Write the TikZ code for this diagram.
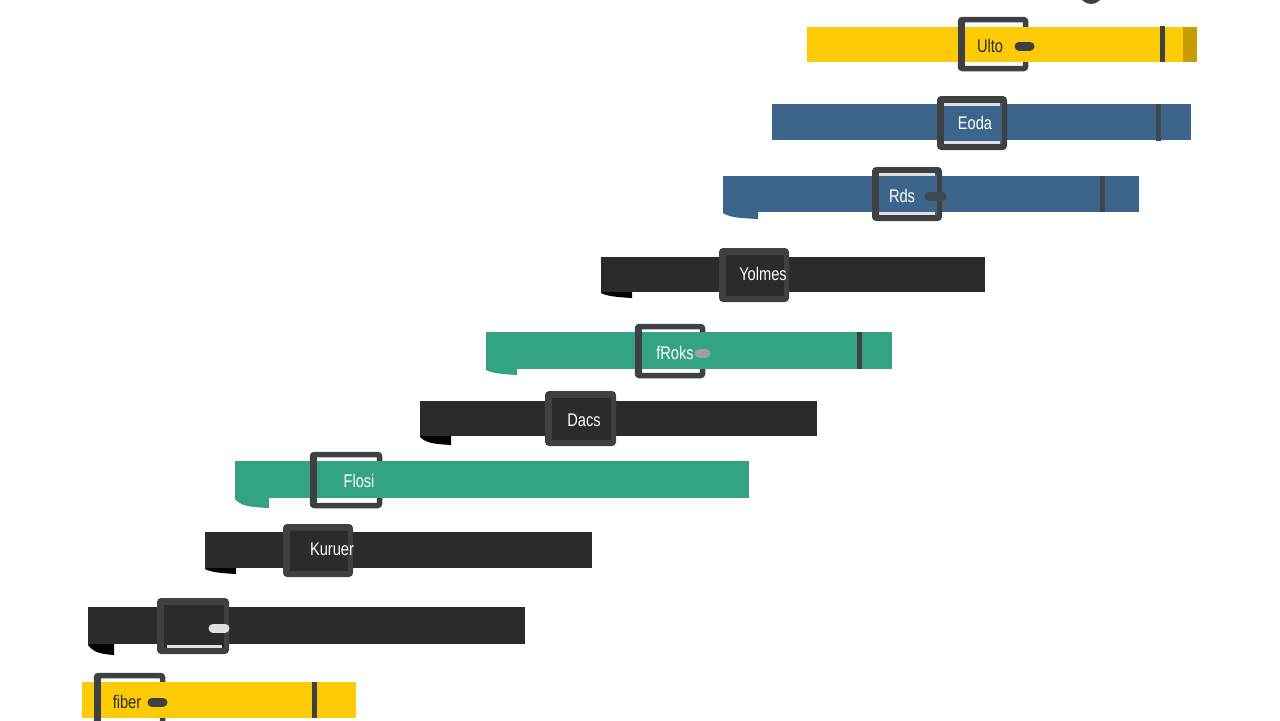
\documentclass[tikz,border=0pt]{standalone}
\usepackage{fontspec}
\setmainfont[FakeStretch=0.8]{Liberation Sans}
\definecolor{beltyellow}{HTML}{FDCB05}
\definecolor{beltblue}{HTML}{3D658B}
\definecolor{beltblack}{HTML}{2B2B2B}
\definecolor{beltgreen}{HTML}{33A384}
\definecolor{framegray}{HTML}{3F4042}
\tikzset{
	belttext/.style={font=\fontsize{5.2}{6}\selectfont, inner sep=0pt},
	framedraw/.style={draw=framegray, line width=0.55mm, rounded corners=0.2mm},
	barline/.style={draw=framegray, line width=0.5mm},
	slotline/.style={draw=white!88!black, line width=0.3mm},
	pill/.style={line width=0.9mm, line cap=round},
}
\def\belt[#1](#2,#3)(#4,#5){\fill[#1] (#2, #4) rectangle (#3, #5);}
\def\tail[#1](#2,#3)(#4,#5){\fill[#1] (#2, #4) -- (#2, #4+1) .. controls (#2+6, #5-2) and (#2+14, #5-1) .. (#3, #5) -- (#3, #4) -- cycle;}
% closed buckle: solid frame
\def\solidbuckle[#1](#2,#3)(#4,#5){
	\fill[framegray, rounded corners=0.4mm] (#2, #4) rectangle (#3, #5);
	\fill[#1] (#2+7, #4+7) rectangle (#3-5, #5-6);
}
% open buckle: the belt runs over its right side
\def\openbuckle[#1](#2,#3)(#4,#5)(#6,#7){
	\draw[framedraw] (#2+2.5, #4+2.5) rectangle (#3-2.5, #5-2.5);
	\fill[#1] (#2+6, #6) rectangle (#3+3, #7);
	\draw[framedraw, line width=0.7mm] (#2+3.5, #4+2.5) -- (#2+3.5, #5-2.5);
}

\begin{document}
\begin{tikzpicture}[x=0.01cm, y=-0.01cm]
	\useasboundingbox (0, 0) rectangle (1280, 720);
	
	\fill[framegray] (1091, -8) circle (12);
	
	%%%%% yellow top
	\openbuckle[beltyellow](958,1028)(17,71)(27,62);
	\fill[beltyellow] (807, 27) rectangle (958, 62);
	\fill[beltyellow] (1028, 27) rectangle (1197, 62);
	\fill[beltyellow!78!black] (1183, 27) rectangle (1197, 62);
	\draw[barline] (1162, 26) -- (1162, 62);
	\node[belttext, text=beltblack] (ulto) at (990, 46) {Ulto};
	\draw[pill, framegray] (1019, 46) -- (1030, 46);
	
	%%%%% blue
	\belt[beltblue](772,1191)(104,140);
	\solidbuckle[beltblue](937,1007)(96,150);
	\draw[slotline] (944, 104) -- (1000, 104);
	\draw[slotline] (944, 142) -- (1000, 142);
	\draw[barline, draw=framegray!80!beltblue] (1158, 104) -- (1158, 141);
	\node[belttext, text=white] (eoda) at (975, 123) {Eoda};
	
	\belt[beltblue](723,1139)(176,212);
	\tail[beltblue](723,758)(212,219);
	\solidbuckle[beltblue](872,942)(167,221);
	\draw[slotline] (879, 174) -- (935, 174);
	\draw[slotline] (879, 213) -- (935, 213);
	\draw[barline, draw=framegray!80!beltblue] (1102, 176) -- (1102, 212);
	\node[belttext, text=white] (rds) at (902, 196) {Rds};
	\draw[pill, framegray!80!beltblue] (929, 196) -- (942, 196);
	
	%%%%% black
	\belt[beltblack](601,985)(257,292);
	\tail[black](601,632)(292,298);
	\solidbuckle[beltblack](719,789)(248,302);
	\node[belttext, text=white] (yolmes) at (763, 274) {Yolmes};
	
	%%%%% green
	\openbuckle[beltgreen](635,705)(324,378)(332,369);
	\fill[beltgreen] (486, 332) rectangle (635, 369);
	\fill[beltgreen] (705, 332) rectangle (892, 369);
	\tail[beltgreen](486,517)(369,375);
	\draw[barline] (859, 332) -- (859, 369);
	\node[belttext, text=white] (froks) at (675, 353) {fRoks};
	\draw[pill, gray!75] (699, 353) -- (706, 353);
	
	%%%%% black
	\belt[beltblack](420,817)(401,436);
	\tail[black](420,451)(436,445);
	\solidbuckle[beltblack](545,616)(391,446);
	\node[belttext, text=white] (dacs) at (584, 420) {Dacs};
	
	%%%%% green
	\openbuckle[beltgreen](310,382)(452,508)(461,498);
	\fill[beltgreen] (235, 461) rectangle (310, 498);
	\fill[beltgreen] (382, 461) rectangle (749, 498);
	\tail[beltgreen](235,269)(498,508);
	\node[belttext, text=white] (flosi) at (359, 481) {Flosi};
	
	%%%%% black
	\belt[beltblack](205,592)(532,568);
	\tail[black](205,236)(568,574);
	\solidbuckle[beltblack](283,353)(524,577);
	\node[belttext, text=white] (kuruer) at (332, 549) {Kuruer};
	
	\belt[beltblack](88,525)(607,644);
	\tail[black](88,114)(644,655);
	\solidbuckle[beltblack](157,229)(598,654);
	\draw[slotline] (167, 646) -- (222, 646);
	\draw[pill, white!88!black] (213, 628) -- (225, 628);
	
	%%%%% yellow bottom
	\openbuckle[beltyellow](94,165)(673,730)(682,718);
	\fill[beltyellow] (82, 682) rectangle (94, 718);
	\fill[beltyellow] (165, 682) rectangle (356, 718);
	\draw[barline] (314, 682) -- (314, 718);
	\node[belttext, text=beltblack] (fiber) at (127, 702) {fiber};
	\draw[pill, framegray] (152, 702) -- (163, 702);
	
\end{tikzpicture}
\end{document}
